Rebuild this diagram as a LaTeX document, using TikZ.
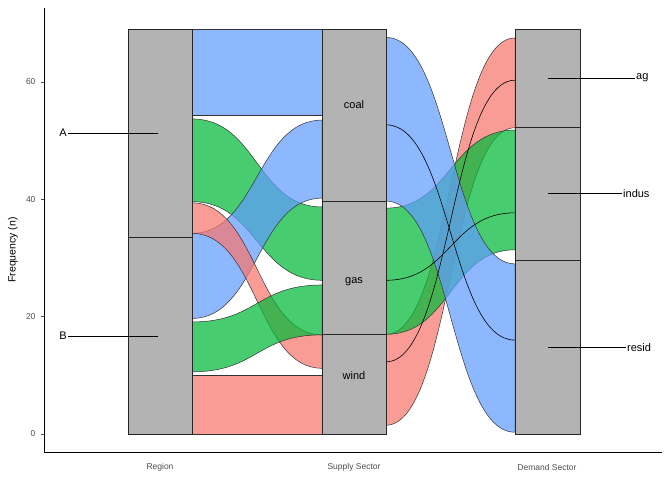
\documentclass[tikz,border=0pt]{standalone}
\usepackage{fontspec}
\setmainfont{Liberation Sans}
\definecolor{cr}{HTML}{F8766D}
\definecolor{cg}{HTML}{00BA38}
\definecolor{cb}{HTML}{619CFF}
\definecolor{strat}{HTML}{B3B3B3}
\definecolor{tick}{HTML}{4D4D4D}
\newcommand\flw[7]{%
  \path[fill=#7,fill opacity=0.72,draw=black!80,line width=0.5pt]
  (#1,#3) .. controls ({(#1+#2)/2},#3) and ({(#1+#2)/2},#5) .. (#2,#5) -- (#2,#6)
  .. controls ({(#1+#2)/2},#6) and ({(#1+#2)/2},#4) .. (#1,#4) -- cycle;}
\newcommand\dvd[4]{%
  \draw[black,line width=0.6pt] (#1,#3) .. controls ({(#1+#2)/2},#3) and ({(#1+#2)/2},#4) .. (#2,#4);}
\begin{document}
\begin{tikzpicture}[x=1pt,y=1pt,
  st/.style={draw=black!85,fill=strat,line width=0.5pt},
  lab/.style={font=\fontsize{11}{13}\selectfont,inner sep=1pt},
  tk/.style={font=\fontsize{8.5}{10}\selectfont,text=tick},
  ll/.style={black,line width=0.6pt}]
\useasboundingbox (0,0) rectangle (672,480);
% axes
\coordinate (yt) at (44,472); \coordinate (o) at (44,28); \coordinate (xr) at (662,28);
\draw[line width=0.6pt] (yt) -- (o) -- (xr);
\node[tk] (xl1) at (160,13) {Region};
\node[tk] (xl2) at (354,13) {Supply Sector};
\node[tk] (xl3) at (547,13) {Demand Sector};
\node[rotate=90,font=\fontsize{10.5}{12}\selectfont] (yl) at (13,230) {Frequency (n)};
\begin{scope}[shift={(0,46)},y=5.867pt]
\foreach \v in {0,20,40,60}{
  \node[tk,anchor=east] (t\v) at (39,\v) {\v};
  \draw[tick,line width=0.5pt] (41,\v) -- (44,\v);}
% left flows
\flw{192}{322}{0}{10}{0}{10}{cr}
\flw{192}{322}{39.6}{53.7}{26.2}{38.7}{cg}
\flw{192}{322}{19.7}{34.2}{40.2}{53.5}{cb}
\flw{192}{322}{34.2}{39.4}{11.2}{16.9}{cr}
\flw{192}{322}{10.6}{19.1}{16.9}{25.4}{cg}
\flw{192}{322}{54.4}{69}{54.4}{69}{cb}
% right flows
\flw{386}{515}{1.5}{17}{52.2}{67.5}{cr}
\flw{386}{515}{17}{38.5}{31.4}{51.8}{cg}
\flw{386}{515}{39.7}{67.6}{0.3}{29}{cb}
\dvd{386}{515}{12.3}{60.3}
\dvd{386}{515}{26.2}{37.7}
\dvd{386}{515}{52.7}{16}
% strata
\draw[st] (128,33.5) rectangle (192,69);
\draw[st] (128,0) rectangle (192,33.5);
\draw[st] (322,0) rectangle (386,17);
\draw[st] (322,17) rectangle (386,39.7);
\draw[st] (322,39.7) rectangle (386,69);
\draw[st] (515,0) rectangle (580,29.6);
\draw[st] (515,29.6) rectangle (580,52.2);
\draw[st] (515,52.2) rectangle (580,69);
\node[lab] (coal) at (354,56.2) {coal};
\node[lab] (gas) at (354,26) {gas};
\node[lab] (wind) at (354,10) {wind};
% outside labels
\node[lab] (la) at (63,51.3) {A};
\node[lab] (lb) at (63,16.7) {B};
\coordinate (pa) at (158,51.3); \coordinate (pb) at (158,16.7);
\draw[ll] (la.east) -- (pa); \draw[ll] (lb.east) -- (pb);
\node[lab,anchor=west] (lag) at (635,60.7) {ag};
\node[lab,anchor=west] (lin) at (622,41) {indus};
\node[lab,anchor=west] (lre) at (626,14.7) {resid};
\coordinate (pag) at (548,60.7); \coordinate (pin) at (548,41); \coordinate (pre) at (548,14.7);
\draw[ll] (pag) -- (lag.west); \draw[ll] (pin) -- (lin.west); \draw[ll] (pre) -- (lre.west);
\end{scope}
\end{tikzpicture}
\end{document}
